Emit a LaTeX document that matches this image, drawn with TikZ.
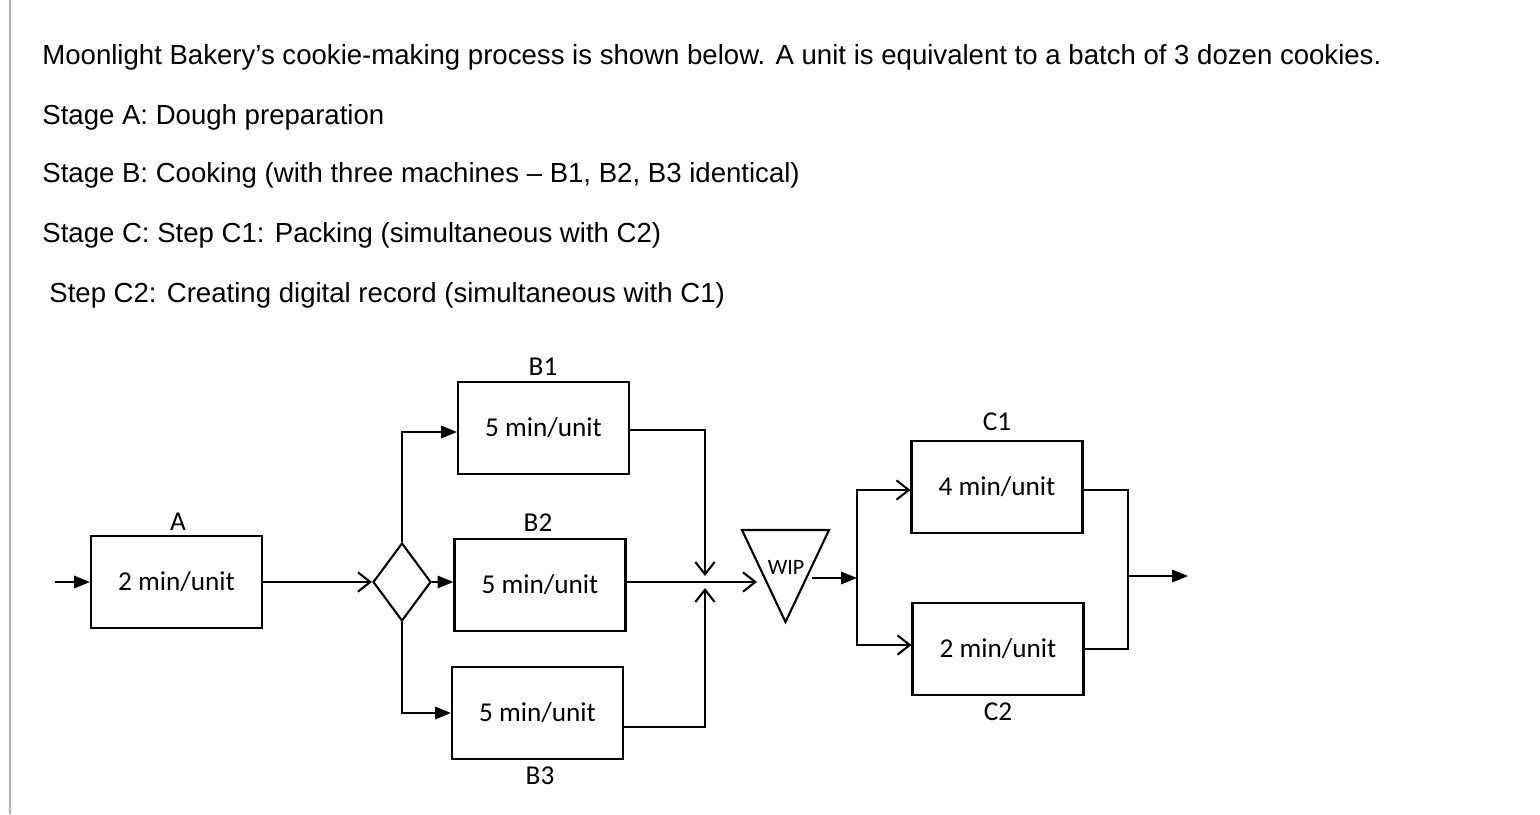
\documentclass[tikz,border=0pt]{standalone}
\usepackage{fontspec}
\setmainfont{Liberation Sans}
\newfontfamily\carlitofont{Carlito}
\usetikzlibrary{arrows.meta,shapes.geometric}
\begin{document}
\begin{tikzpicture}[x=0.02cm,y=-0.02cm,
  box/.style={draw,line width=1.2pt,minimum width=3.42cm,minimum height=1.84cm,inner sep=0,font=\carlitofont\fontsize{15.5}{18}\selectfont},
  lab/.style={font=\carlitofont\fontsize{15.5}{18}\selectfont},
  txt/.style={anchor=west,font=\fontsize{15.7}{18}\selectfont,inner sep=0},
  ln/.style={line width=1.2pt},
  fa/.style={ln,-{Triangle[length=9pt,width=7pt]}},
  oa/.style={ln,-{Straight Barb[length=7pt,width=11pt]}}]
\useasboundingbox (0,0) rectangle (1540,814);
\draw[gray!60,line width=1pt] (10,0) -- (10,814);
\node[txt] (t1) at (42,57) {Moonlight Bakery’s cookie-making process is shown below. A unit is equivalent to a batch of 3 dozen cookies.};
\node[txt] (t2) at (42,117) {Stage A: Dough preparation};
\node[txt] (t3) at (42,175) {Stage B: Cooking (with three machines – B1, B2, B3 identical)};
\node[txt] (t4) at (42,235) {Stage C: Step C1: Packing (simultaneous with C2)};
\node[txt] (t5) at (49,295) {Step C2: Creating digital record (simultaneous with C1)};

\node[box] (A) at (176.5,582) {2 min/unit};
\node[lab] at (178,522) {A};
\node[draw,line width=1.2pt,diamond,minimum width=1.16cm,minimum height=1.56cm,inner sep=0] (D) at (402,582) {};
\node[box] (B1) at (543.5,428) {5 min/unit};
\node[lab] at (543,367) {B1};
\node[box] (B2) at (540,585) {5 min/unit};
\node[lab] at (538,523) {B2};
\node[box] (B3) at (537.5,713) {5 min/unit};
\node[lab] at (540,776) {B3};
\draw[ln,line join=miter] (742,530) -- (829,530) -- (785.5,622) -- cycle;
\node[font=\carlitofont\fontsize{12.5}{14}\selectfont] (W) at (786,567) {WIP};
\node[box] (C1) at (997,487) {4 min/unit};
\node[lab] at (997,422) {C1};
\node[box] (C2) at (998,649) {2 min/unit};
\node[lab] at (998,712) {C2};

\coordinate (in) at (55,582);
\coordinate (m1) at (705,430);
\coordinate (m3) at (705,727);
\coordinate (mt) at (705,576);
\coordinate (mb) at (705,588);
\coordinate (s) at (857,578);
\coordinate (o1) at (1128,490);
\coordinate (o2) at (1128,649);
\coordinate (out) at (1188,576);

\draw[fa] (in) -- (A.west |- in);
\draw[oa] (A.east |- in) -- (D.west);
\draw[fa] (D.east) -- (B2.west |- D.east);
\draw[fa] (D.north) |- (B1.west |- 0,432);
\draw[fa] (D.south) |- (B3.west |- 0,713);
\draw[oa] (B1.east |- m1) -| (mt);
\draw[oa] (B3.east |- m3) -| (mb);
\draw[oa] (B2.east |- 0,582) -- (757,582);
\draw[fa] (812,578) -- (s);
\draw[oa] (s) |- (C1.west |- 0,490);
\draw[oa] (s) |- (C2.west |- 0,645);
\draw[ln] (C1.east |- o1) -- (o1) -- (o2) -- (C2.east |- o2);
\draw[fa] (o1 |- out) -- (out);
\end{tikzpicture}
\end{document}
